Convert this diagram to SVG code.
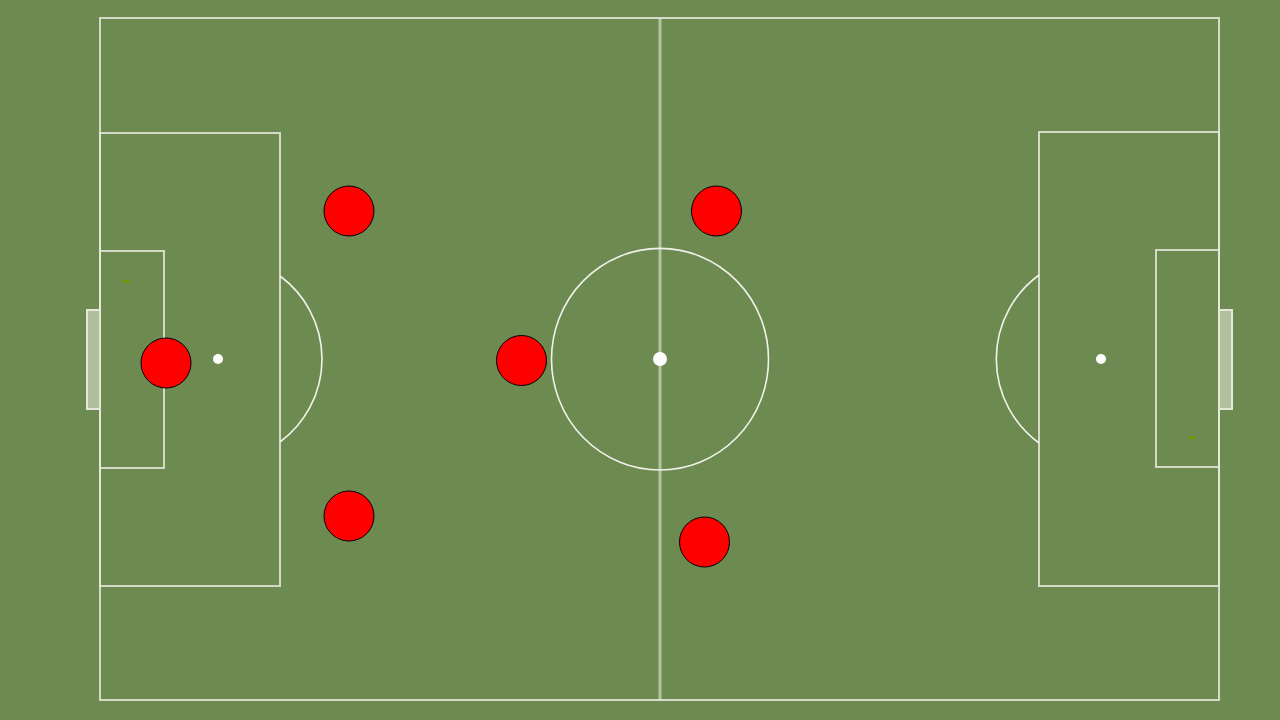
<svg xmlns="http://www.w3.org/2000/svg" width="1280" height="720" viewBox="0 0 1280 720">
<style>
.line{fill:none;stroke:#e6e8dc;stroke-opacity:0.85;stroke-width:2}
.half{fill:none;stroke:#e6e8dc;stroke-opacity:0.6;stroke-width:3}
.thin{fill:none;stroke:#f2f2ec;stroke-width:1.6}
.goal{fill:#e8ecdc;fill-opacity:0.55;stroke:#e6e8dc;stroke-width:2}
.spot{fill:#ffffff}
.mark{fill:#6b9a00}
.player{fill:#ff0000;stroke:#000000;stroke-width:1}
</style>
<rect x="0" y="0" width="1280" height="720" fill="#6d8a50"/>
<g id="pitch">
<rect x="87" y="310" width="13" height="99" class="goal"/>
<rect x="1219" y="310" width="13" height="99" class="goal"/>
<rect x="100" y="18" width="1119" height="682" class="line"/>
<line x1="660" y1="18" x2="660" y2="700" class="half"/>
<rect x="100" y="133" width="180" height="453" class="line"/>
<rect x="100" y="251" width="64" height="217" class="line"/>
<rect x="1039" y="132" width="180" height="454" class="line"/>
<rect x="1156" y="250" width="63" height="217" class="line"/>
<path d="M280,276 A103,103 0 0 1 280,442" class="thin"/>
<path d="M1039,275 A104,104 0 0 0 1039,443" class="thin"/>
<ellipse cx="660" cy="359.2" rx="108.5" ry="110.8" class="thin"/>
<circle cx="660" cy="359" r="7" class="spot"/>
<circle cx="218" cy="359" r="5" class="spot"/>
<circle cx="1101" cy="359" r="5" class="spot"/>
<rect x="123" y="280" width="7" height="3" rx="1.5" class="mark"/>
<rect x="1189" y="436" width="7" height="3" rx="1.5" class="mark"/>
</g>
<g id="players">
<circle id="p1" cx="166" cy="363" r="25" class="player"/>
<circle id="p2" cx="349" cy="211" r="25" class="player"/>
<circle id="p3" cx="349" cy="516" r="25" class="player"/>
<circle id="p4" cx="521.5" cy="360.5" r="25" class="player"/>
<circle id="p5" cx="716.5" cy="211" r="25" class="player"/>
<circle id="p6" cx="704.5" cy="542" r="25" class="player"/>
</g>
</svg>
